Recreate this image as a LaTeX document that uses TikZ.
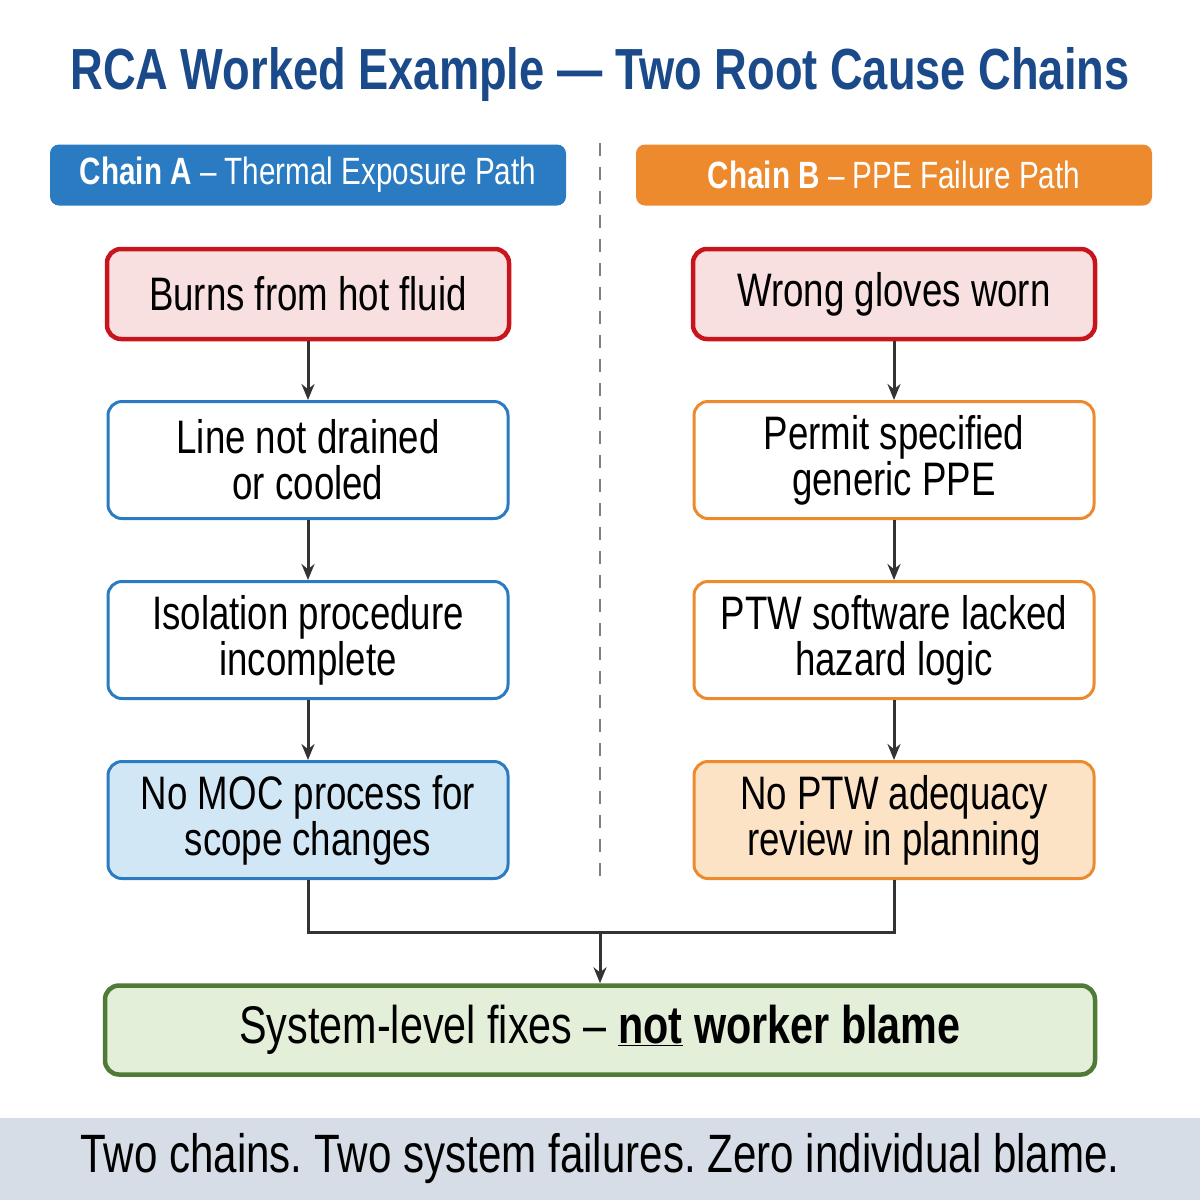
\documentclass[tikz,border=0pt]{standalone}
\usepackage{fontspec}
\setmainfont{Liberation Sans}[FakeStretch=0.78]
\usepackage{tikz}
\usetikzlibrary{arrows.meta,calc}
\frenchspacing

\definecolor{titleblue}{HTML}{1B4A8A}
\definecolor{chainA}{HTML}{2B7BC3}
\definecolor{chainB}{HTML}{EE8A2E}
\definecolor{effred}{HTML}{C8141C}
\definecolor{effpink}{HTML}{F8E0E1}
\definecolor{rootblue}{HTML}{D2E7F6}
\definecolor{rootorange}{HTML}{FDE3C6}
\definecolor{fixgreen}{HTML}{4F7B35}
\definecolor{fixfill}{HTML}{E3EFD8}
\definecolor{bandgray}{HTML}{D6DDE6}
\definecolor{linkgray}{HTML}{333333}

\begin{document}
\begin{tikzpicture}[x=1pt, y=-1pt, >=Stealth,
    header/.style={rounded corners=9pt, minimum width=516pt, minimum height=61pt,
        text=white, font=\fontsize{38pt}{44pt}\selectfont},
    cause/.style={draw, line width=3pt, rounded corners=14pt, minimum width=400pt,
        minimum height=117pt, align=center, font=\fontsize{47pt}{46pt}\selectfont},
    effect/.style={cause, draw=effred, fill=effpink, line width=4.5pt,
        minimum width=402pt, minimum height=90pt},
    link/.style={draw=linkgray, line width=3pt, -{Stealth[length=16pt,width=13pt]}}]
        \useasboundingbox (0,0) rectangle (1200,1200);
        \fill[white] (0,0) rectangle (1200,1200);

        \coordinate (title) at (600,75);
        \coordinate (hdr_a) at (308,175);
        \coordinate (hdr_b) at (894,175);
        \coordinate (a1) at (308,294);
        \coordinate (a2) at (308,460);
        \coordinate (a3) at (308,640);
        \coordinate (a4) at (308,820);
        \coordinate (b1) at (894,294);
        \coordinate (b2) at (894,460);
        \coordinate (b3) at (894,640);
        \coordinate (b4) at (894,820);
        \coordinate (fix) at (600,1030);

        % title and chain headers
        \node[text=titleblue, font=\fontsize{58pt}{64pt}\selectfont\bfseries] (Title) at (title) {RCA Worked Example --- Two Root Cause Chains};
        \node[header, fill=chainA] (HdrA) at (hdr_a) {\textbf{Chain A} -- Thermal Exposure Path};
        \node[header, fill=chainB] (HdrB) at (hdr_b) {\textbf{Chain B} -- PPE Failure Path};

        \coordinate (sep_top) at (600,143);
        \coordinate (sep_bot) at (600,885);
        \draw[gray, line width=2.5pt, dash pattern=on 13pt off 11pt] (sep_top) -- (sep_bot);

        % chain A
        \node[effect] (A1) at (a1) {Burns from hot fluid};
        \node[cause, draw=chainA] (A2) at (a2) {Line not drained\\or cooled};
        \node[cause, draw=chainA] (A3) at (a3) {Isolation procedure\\incomplete};
        \node[cause, draw=chainA, fill=rootblue] (A4) at (a4) {No MOC process for\\scope changes};

        % chain B
        \node[effect] (B1) at (b1) {Wrong gloves worn};
        \node[cause, draw=chainB] (B2) at (b2) {Permit specified\\generic PPE};
        \node[cause, draw=chainB] (B3) at (b3) {PTW software lacked\\hazard logic};
        \node[cause, draw=chainB, fill=rootorange] (B4) at (b4) {No PTW adequacy\\review in planning};

        \node[cause, draw=fixgreen, fill=fixfill, line width=4.5pt, minimum width=990pt, minimum height=89pt,
            font=\fontsize{53pt}{58pt}\selectfont] (Fix) at (fix)
            {System-level fixes -- \textbf{\underline{not} worker blame}};

        \path[link] (A1) -- (A2);
        \path[link] (A2) -- (A3);
        \path[link] (A3) -- (A4);
        \path[link] (B1) -- (B2);
        \path[link] (B2) -- (B3);
        \path[link] (B3) -- (B4);

        \coordinate (merge) at (600,932);
        \draw[linkgray, line width=3pt] (A4.south) |- (merge) -| (B4.south);
        \path[link] (merge) -- (Fix.north);

        % bottom band
        \fill[bandgray] (0,1118) rectangle (1200,1200);
        \node[font=\fontsize{54pt}{60pt}\selectfont] (Summary) at (600,1159) {Two chains. Two system failures. Zero individual blame.};
\end{tikzpicture}
\end{document}
